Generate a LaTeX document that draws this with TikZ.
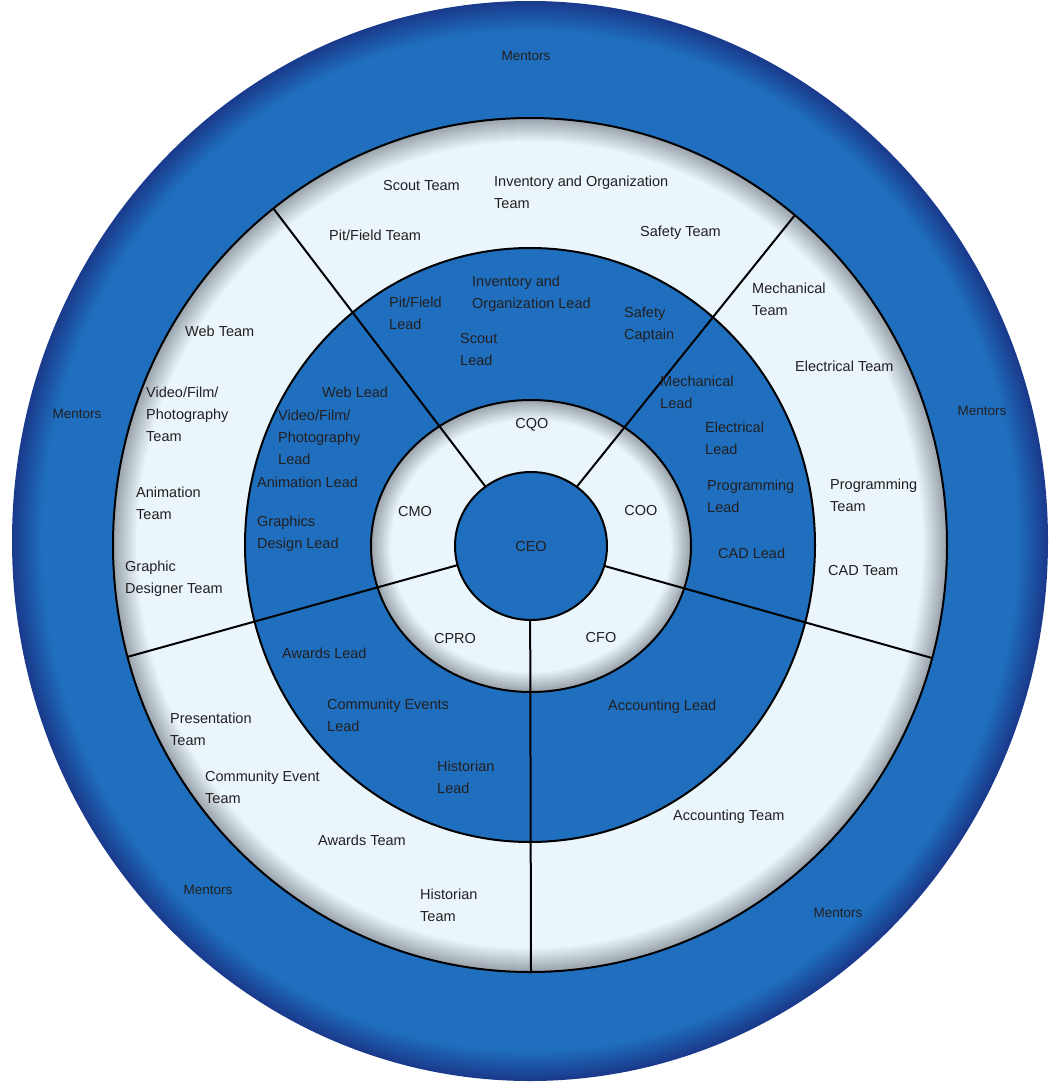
\documentclass[tikz,border=0pt]{standalone}
\usepackage{fontspec}
\setmainfont{Liberation Sans}
\definecolor{bmid}{HTML}{1F6FBE}
\definecolor{bdark}{HTML}{1A3A8C}
\definecolor{lite}{HTML}{EAF6FC}
\definecolor{shade}{HTML}{9AA3AB}
\definecolor{txt}{HTML}{231F20}
\begin{document}
\begin{tikzpicture}[x=1pt,y=-1pt,
  lbl/.style={anchor=north west,inner sep=0pt,align=left,text=txt,font=\fontsize{14.5}{22}\selectfont},
  ctr/.style={anchor=center,inner sep=0pt,text=txt,font=\fontsize{14.5}{22}\selectfont},
  ment/.style={anchor=center,inner sep=0pt,text=txt,font=\fontsize{13.5}{16}\selectfont}]
\useasboundingbox (0,0) rectangle (1059,1082);
\coordinate (C) at (530,545);
% outer blue ring with gradient
\foreach \i in {0,...,30}{
  \pgfmathsetmacro\p{100-\i*100/30}
  \fill[bdark!\p!bmid] (530,541) ellipse ({518-\i} and {540-\i});
}
% white ring with shading near edges
\foreach \i in {0,...,24}{
  \pgfmathsetmacro\p{100-\i*100/24}
  \fill[shade!\p!lite] (C) ellipse ({417-\i} and {427-\i});
}
\draw[black,line width=2pt] (C) ellipse (417 and 427);
% dark ring
\fill[bmid] (C) ellipse (285 and 297);
\draw[black,line width=2pt] (C) ellipse (285 and 297);
% inner white ring
\foreach \i in {0,...,20}{
  \pgfmathsetmacro\p{100-\i*100/20}
  \fill[shade!\p!lite] (531,546) ellipse ({160-\i} and {146-\i});
}
\draw[black,line width=2pt] (531,546) ellipse (160 and 146);
% dividers
\coordinate (d1) at (273,208);
\coordinate (d2) at (795,215);
\coordinate (d3) at (932,658);
\coordinate (d4) at (531,972);
\coordinate (d5) at (127,657);
\foreach \d in {d1,d2,d3,d4,d5} \draw[black,line width=2pt] (C) -- (\d);
% CEO
\fill[bmid] (531,546) ellipse (76 and 74);
\draw[black,line width=2pt] (531,546) ellipse (76 and 74);
% inner labels
\node[ctr] (ceo) at (531,547) {CEO};
\node[ctr] (cqo) at (532,425) {CQO};
\node[ctr] (coo) at (641,511) {COO};
\node[ctr] (cmo) at (415,512) {CMO};
\node[ctr] (cpro) at (455,638) {CPRO};
\node[ctr] (cfo) at (601,637) {CFO};
% mentors
\node[ment] (m1) at (526,56) {Mentors};
\node[ment] (m2) at (77,414) {Mentors};
\node[ment] (m3) at (982,411) {Mentors};
\node[ment] (m4) at (208,890) {Mentors};
\node[ment] (m5) at (838,913) {Mentors};
% outer white ring teams
\node[lbl] (t1) at (383,180) {Scout Team};
\node[lbl] (t2) at (494,176) {Inventory and Organization\\Team};
\node[lbl] (t3) at (640,226) {Safety Team};
\node[lbl] (t4) at (329,230) {Pit/Field Team};
\node[lbl] (t5) at (185,326) {Web Team};
\node[lbl] (t6) at (146,387) {Video/Film/\\Photography\\Team};
\node[lbl] (t7) at (136,487) {Animation\\Team};
\node[lbl] (t8) at (125,561) {Graphic\\Designer Team};
\node[lbl] (t9) at (752,283) {Mechanical\\Team};
\node[lbl] (t10) at (795,361) {Electrical Team};
\node[lbl] (t11) at (830,479) {Programming\\Team};
\node[lbl] (t12) at (828,565) {CAD Team};
\node[lbl] (t13) at (170,713) {Presentation\\Team};
\node[lbl] (t14) at (205,771) {Community Event\\Team};
\node[lbl] (t15) at (318,835) {Awards Team};
\node[lbl] (t16) at (420,889) {Historian\\Team};
\node[lbl] (t17) at (673,810) {Accounting Team};
% dark ring leads
\node[lbl] (l1) at (389,297) {Pit/Field\\Lead};
\node[lbl] (l2) at (472,276) {Inventory and\\Organization Lead};
\node[lbl] (l3) at (624,307) {Safety\\Captain};
\node[lbl] (l4) at (460,333) {Scout\\Lead};
\node[lbl] (l5) at (322,387) {Web Lead};
\node[lbl] (l6) at (278,410) {Video/Film/\\Photography\\Lead};
\node[lbl] (l7) at (257,477) {Animation Lead};
\node[lbl] (l8) at (257,516) {Graphics\\Design Lead};
\node[lbl] (l9) at (660,376) {Mechanical\\Lead};
\node[lbl] (l10) at (705,422) {Electrical\\Lead};
\node[lbl] (l11) at (707,480) {Programming\\Lead};
\node[lbl] (l12) at (718,548) {CAD Lead};
\node[lbl] (l13) at (282,648) {Awards Lead};
\node[lbl] (l14) at (327,699) {Community Events\\Lead};
\node[lbl] (l15) at (437,761) {Historian\\Lead};
\node[lbl] (l16) at (608,700) {Accounting Lead};
\end{tikzpicture}
\end{document}
